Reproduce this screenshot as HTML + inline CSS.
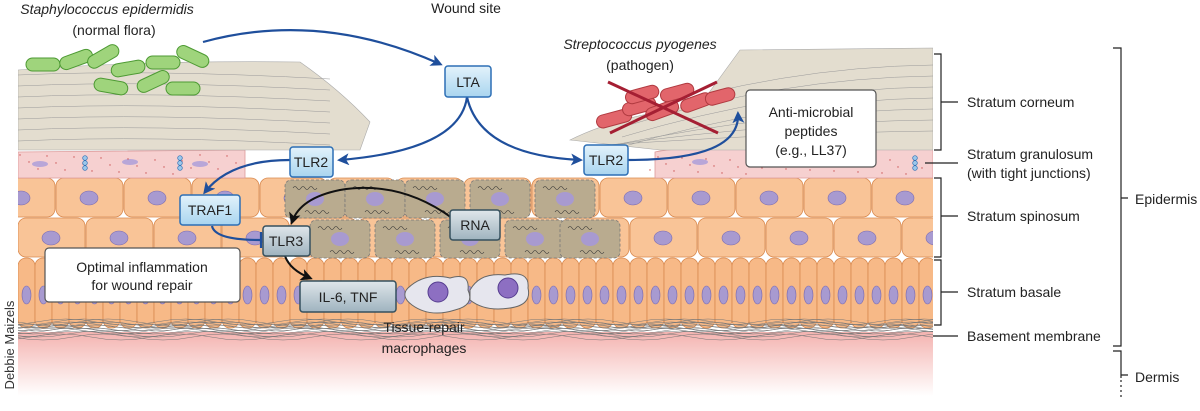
<!DOCTYPE html>
<html><head><meta charset="utf-8"><style>
body{margin:0;background:#fff;width:1200px;height:406px;overflow:hidden}
text{font-family:"Liberation Sans",sans-serif;}
</style></head><body>
<svg id="s" width="1200" height="406" viewBox="0 0 1200 406" xmlns="http://www.w3.org/2000/svg">
<defs>
<linearGradient id="derm" x1="0" y1="0" x2="0" y2="1"><stop offset="0" stop-color="#f4b3b0"/><stop offset="1" stop-color="#fff"/></linearGradient>
<linearGradient id="box" x1="0" y1="0" x2="0" y2="1"><stop offset="0" stop-color="#e3f2fb"/><stop offset="1" stop-color="#a9d5ef"/></linearGradient>
<linearGradient id="gbox" x1="0" y1="0" x2="0" y2="1"><stop offset="0" stop-color="#dfe6ea"/><stop offset="1" stop-color="#9fb3bf"/></linearGradient>
<clipPath id="cp"><rect x="18" y="0" width="915" height="406"/></clipPath>
</defs>
<g id="tissue" clip-path="url(#cp)"></g>
</svg>
<script>
var s=document.getElementById('tissue'),h='';
h+='<rect x="18" y="332" width="915" height="64" fill="url(#derm)"/>';
for(var x=18;x<933;x+=17){h+='<rect x="'+x+'" y="258" width="17" height="70" rx="8" fill="#f7b987" stroke="#d98a50" stroke-width="0.8"/><ellipse cx="'+(x+8.5)+'" cy="295" rx="4.5" ry="9" fill="#a89ad0" stroke="#7b6bb0" stroke-width="0.6"/>';}
for(var i=0;i<16;i++){var y=322+i%6*3;var o=(i*37)%60;h+='<path d="M'+(18-o)+','+y+' q30,6 60,0 t60,0 t60,0 t60,0 t60,0 t60,0 t60,0 t60,0 t60,0 t60,0 t60,0 t60,0 t60,0 t60,0 t60,0 t60,0 t60,0" stroke="#777" stroke-width="0.5" fill="none"/>';}
function row(y,off){for(var x=18-off;x<933;x+=68){h+='<rect x="'+x+'" y="'+y+'" width="67" height="39" rx="8" fill="#f9c497" stroke="#d98a50" stroke-width="0.8"/><ellipse cx="'+(x+33)+'" cy="'+(y+20)+'" rx="9" ry="7" fill="#a89ad0" stroke="#7b6bb0" stroke-width="0.6"/>';}}
row(178,30);row(218,0);
var tan=[[285,180],[345,180],[405,180],[470,180],[535,180],[310,220],[375,220],[440,220],[505,220],[560,220]];
tan.forEach(function(t){h+='<rect x="'+t[0]+'" y="'+t[1]+'" width="60" height="38" rx="6" fill="#b9ab8f" stroke="#777" stroke-dasharray="3,2" stroke-width="0.8"/><ellipse cx="'+(t[0]+30)+'" cy="'+(t[1]+19)+'" rx="9" ry="7" fill="#a89ad0"/><path d="M'+(t[0]+8)+','+(t[1]+8)+' q2,-3 4,0 t4,0 t4,0 t4,0 t4,0 t4,0 M'+(t[0]+20)+','+(t[1]+32)+' q2,-3 4,0 t4,0 t4,0 t4,0 t4,0 t4,0" stroke="#333" stroke-width="0.6" fill="none"/>';});
h+='<path d="M18,152 L245,150 L245,178 L18,178Z" fill="#f6d0d0" stroke="#d99" stroke-width="0.8"/>';
h+='<path d="M655,152 Q700,142 933,148 L933,178 L655,178Z" fill="#f6d0d0" stroke="#d99" stroke-width="0.8"/>';
[[40,164],[130,162],[200,164],[700,162],[860,164]].forEach(function(e){h+='<ellipse cx="'+e[0]+'" cy="'+e[1]+'" rx="8" ry="3" fill="#b8a6d8"/>';});
for(var i=0;i<60;i++){var px=(i<25)?20+i*9:650+(i-25)*8;h+='<circle cx="'+px+'" cy="'+(155+(i*7)%20)+'" r="0.7" fill="#c55"/>';}
[[85],[180],[915]].forEach(function(e){for(var k=0;k<3;k++)h+='<circle cx="'+e[0]+'" cy="'+(158+k*5)+'" r="2.3" fill="#9cc7ea" stroke="#2d6fb5" stroke-width="0.7"/>';});
h+='<path d="M18,70 Q150,60 300,62 Q340,90 370,122 L360,150 L18,150Z" fill="#e3ddcf" stroke="#aaa" stroke-width="0.6"/>';
h+='<path d="M570,140 Q620,115 700,105 L740,50 L933,48 L933,150 L660,150Z" fill="#e3ddcf" stroke="#aaa" stroke-width="0.6"/>';
for(var i=0;i<7;i++){var y=75+i*11;h+='<path d="M18,'+y+' Q150,'+(y-6)+' 330,'+(y+4)+'" stroke="#999" stroke-width="0.5" fill="none"/><path d="M'+(630-i*4)+','+(y+40>150?145:y+40)+' Q780,'+(y-8)+' 933,'+(y-10)+'" stroke="#999" stroke-width="0.5" fill="none"/>';}
[[30,58,0],[63,53,-20],[90,50,-30],[115,62,-10],[150,56,0],[180,50,25],[98,80,10],[140,75,-25],[170,82,0]].forEach(function(b){h+='<rect x="'+(b[0]-4)+'" y="'+b[1]+'" width="34" height="13" rx="6.5" fill="#9fd47c" stroke="#4d9a33" stroke-width="1" transform="rotate('+b[2]+' '+(b[0]+13)+' '+(b[1]+6)+')"/>';});
s.innerHTML=h;
</script>
<svg width="1200" height="406" style="position:absolute;left:0;top:0" xmlns="http://www.w3.org/2000/svg">
<defs>
<marker id="ab2" markerWidth="12" markerHeight="12" refX="9" refY="6" orient="auto" markerUnits="userSpaceOnUse"><path d="M0,0 L12,6 L0,12 L3,6z" fill="#1f4f9c"/></marker>
<marker id="ak2" markerWidth="12" markerHeight="12" refX="9" refY="6" orient="auto" markerUnits="userSpaceOnUse"><path d="M0,0 L12,6 L0,12 L3,6z" fill="#111"/></marker>
</defs>
<g fill="#e2656b" stroke="#b03a40" stroke-width="1">
<rect x="596" y="112" width="36" height="13" rx="6.5" transform="rotate(-15 614 118)"/>
<rect x="622" y="100" width="34" height="13" rx="6.5" transform="rotate(-15 639 106)"/>
<rect x="625" y="88" width="34" height="13" rx="6.5" transform="rotate(-15 642 94)"/>
<rect x="645" y="104" width="34" height="13" rx="6.5" transform="rotate(-20 662 110)"/>
<rect x="660" y="86" width="34" height="13" rx="6.5" transform="rotate(-15 677 92)"/>
<rect x="680" y="96" width="32" height="13" rx="6.5" transform="rotate(-20 696 102)"/>
<rect x="705" y="90" width="30" height="13" rx="6.5" transform="rotate(-15 720 96)"/>
</g>
<path d="M608,82 L718,133 M610,133 L717,82" stroke="#a51f33" stroke-width="3"/>
<path d="M408,288 Q425,272 450,278 Q470,272 468,290 Q475,305 455,310 Q430,318 412,305 Q400,296 408,288Z" fill="#e6e6ee" stroke="#666"/><circle cx="438" cy="292" r="10" fill="#8d6fc2" stroke="#553c8f"/>
<path d="M470,290 Q480,272 505,275 Q530,270 528,288 Q532,305 510,308 Q485,312 470,300Z" fill="#e6e6ee" stroke="#666"/><circle cx="508" cy="288" r="10" fill="#8d6fc2" stroke="#553c8f"/>
<g fill="none" stroke="#1f4f9c" stroke-width="2.2">
<path d="M203,42 Q320,10 440,64" marker-end="url(#ab2)"/>
<path d="M467,97 Q460,150 340,160" marker-end="url(#ab2)"/>
<path d="M467,97 Q480,155 580,160" marker-end="url(#ab2)"/>
<path d="M290,160 Q230,160 205,192" marker-end="url(#ab2)"/>
<path d="M628,160 Q740,160 738,114" marker-end="url(#ab2)"/>
<path d="M212,226 Q215,240 260,240 M261,232 L261,248"/>
</g>
<g fill="none" stroke="#111" stroke-width="2">
<path d="M452,218 Q400,180 340,190 Q300,198 292,222" marker-end="url(#ak2)"/>
<path d="M285,256 Q290,270 310,278" marker-end="url(#ak2)"/>
</g>
<g stroke="#2d6fb5" stroke-width="1.5" fill="url(#box)">
<rect x="445" y="66" width="46" height="31" rx="3"/>
<rect x="290" y="147" width="43" height="30" rx="3"/>
<rect x="584" y="145" width="44" height="30" rx="3"/>
<rect x="180" y="195" width="60" height="30" rx="3"/>
</g>
<g stroke="#35505e" stroke-width="1.5" fill="url(#gbox)">
<rect x="263" y="226" width="47" height="30" rx="3"/>
<rect x="450" y="210" width="50" height="30" rx="3"/>
<rect x="300" y="281" width="96" height="31" rx="3"/>
</g>
<g stroke="#555" stroke-width="1.2" fill="#fff">
<rect x="45" y="248" width="195" height="54" rx="4"/>
<rect x="746" y="90" width="130" height="77" rx="4"/>
</g>
<g font-size="14" fill="#222" text-anchor="middle" font-family="Liberation Sans, sans-serif">
<text x="468" y="87">LTA</text>
<text x="311" y="167">TLR2</text>
<text x="606" y="165">TLR2</text>
<text x="210" y="215">TRAF1</text>
<text x="286" y="246">TLR3</text>
<text x="475" y="230">RNA</text>
<text x="348" y="302">IL-6, TNF</text>
<text x="142" y="272">Optimal inflammation</text>
<text x="142" y="290">for wound repair</text>
<text x="811" y="117">Anti-microbial</text>
<text x="811" y="136">peptides</text>
<text x="811" y="155">(e.g., LL37)</text>
<text x="424" y="332">Tissue-repair</text>
<text x="424" y="353">macrophages</text>
<text x="107" y="14" font-style="italic">Staphylococcus epidermidis</text>
<text x="114" y="35">(normal flora)</text>
<text x="466" y="13">Wound site</text>
<text x="640" y="49" font-style="italic">Streptococcus pyogenes</text>
<text x="640" y="70">(pathogen)</text>
</g>
<text x="14" y="345" font-size="13" fill="#333" text-anchor="middle" transform="rotate(-90 14 345)" font-family="Liberation Sans, sans-serif">Debbie Maizels</text>
<g stroke="#222" stroke-width="1.2" fill="none">
<path d="M934,54 H941 V150 H934 M941,102 H958"/>
<path d="M934,178 H941 V257 H934 M941,216 H958"/>
<path d="M934,260 H941 V325 H934 M941,292 H958"/>
<path d="M925,163 H958 M933,336 H958"/>
<path d="M1113,48 H1121 V346 H1113 M1121,198 H1128"/>
<path d="M1113,351 H1121 V378 M1121,375 H1128"/>
<path d="M1121,380 V400" stroke-dasharray="2,3"/>
</g>
<g font-size="14" fill="#222" font-family="Liberation Sans, sans-serif">
<text x="967" y="107">Stratum corneum</text>
<text x="967" y="159">Stratum granulosum</text>
<text x="967" y="178">(with tight junctions)</text>
<text x="967" y="221">Stratum spinosum</text>
<text x="967" y="297">Stratum basale</text>
<text x="967" y="341">Basement membrane</text>
<text x="1135" y="204">Epidermis</text>
<text x="1135" y="382">Dermis</text>
</g>
</svg>
</body></html>
